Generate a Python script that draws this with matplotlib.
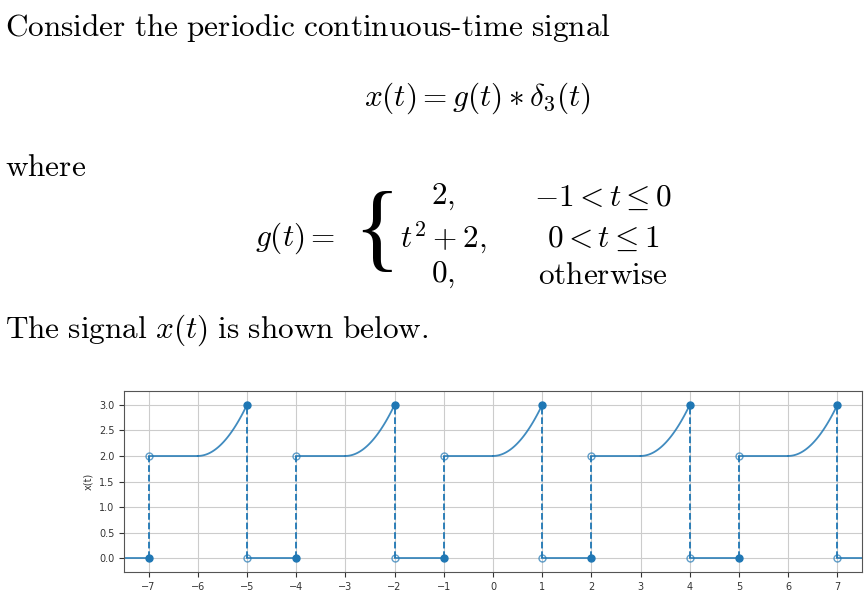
import numpy as np
import matplotlib
matplotlib.use('agg')
import matplotlib.pyplot as plt

plt.rcParams['mathtext.fontset'] = 'cm'
plt.rcParams['font.family'] = 'serif'
plt.rcParams['font.serif'] = ['DejaVu Serif']

# signal data: one period of g(t), repeated with period 3
shifts = [-6, -3, 0, 3, 6]
open_hi_t = [-7, -4, -1, 2, 5]     # open circles at y=2
open_lo_t = [-5, -2, 1, 4, 7]      # open circles at y=0
fill_hi_t = [-5, -2, 1, 4, 7]      # filled at y=3
fill_lo_t = [-7, -4, -1, 2, 5]     # filled at y=0
xticks = [-7, -6, -5, -4, -3, -2, -1, 0, 1, 2, 3, 4, 5, 6, 7]
yticks = [0.0, 0.5, 1.0, 1.5, 2.0, 2.5, 3.0]

fig = plt.figure(figsize=(8.66, 5.95), dpi=100)
W, H = 866, 595
def tx(x, y, s, **kw):
    fig.text(x / W, 1 - y / H, s, va='center', **kw)

fs = 22.5
tx(5, 28, r'$\mathrm{Consider\ the\ periodic\ continuous\text{-}time\ signal}$', fontsize=fs)
tx(478, 98, r'$x(t) = g(t) * \delta_3(t)$', fontsize=fs, ha='center')
tx(5, 168, r'$\mathrm{where}$', fontsize=fs)
tx(255, 238, r'$g(t) =$', fontsize=fs)
tx(353, 236, '{', fontsize=70, family='Liberation Serif', fontweight='light')
tx(443, 197, r'$2,$', fontsize=fs, ha='center')
tx(443, 238, r'$t^2 + 2,$', fontsize=fs, ha='center')
tx(443, 275, r'$0,$', fontsize=fs, ha='center')
tx(603, 197, r'$-1 < t \leq 0$', fontsize=fs, ha='center')
tx(603, 238, r'$0 < t \leq 1$', fontsize=fs, ha='center')
tx(603, 275, r'$\mathrm{otherwise}$', fontsize=fs, ha='center')
tx(5, 330, r'$\mathrm{The\ signal\ }x(t)\mathrm{\ is\ shown\ below.}$', fontsize=fs)

ax = fig.add_axes([124 / W, 1 - 572 / H, (862 - 124) / W, (572 - 391) / H])
c = '#1f77b4'
lw = 1.3
ax.plot([-7.5, -7], [0, 0], color=c, lw=lw, alpha=0.85)
for s in shifts:
    t1 = np.linspace(-1, 0, 20) + s
    t2 = np.linspace(0, 1, 60)
    t3 = np.linspace(1, 2, 20) + s
    ax.plot(t1, np.full_like(t1, 2), color=c, lw=lw, alpha=0.85)
    ax.plot(t2 + s, t2 ** 2 + 2, color=c, lw=lw, alpha=0.85)
    ax.plot(t3, np.zeros_like(t3), color=c, lw=lw, alpha=0.85)
for t in open_hi_t:
    ax.plot([t, t], [0, 2], '--', color=c, lw=lw)
for t in fill_hi_t:
    ax.plot([t, t], [0, 3], '--', color=c, lw=lw)
ax.plot(open_hi_t, [2] * 5, 'o', mfc='none', mec=c, ms=5, alpha=0.7)
ax.plot(open_lo_t, [0] * 5, 'o', mfc='none', mec=c, ms=5, alpha=0.7)
ax.plot(fill_hi_t, [3] * 5, 'o', color=c, ms=5)
ax.plot(fill_lo_t, [0] * 5, 'o', color=c, ms=5)

ax.set_xlim(-7.5, 7.5)
ax.set_ylim(-0.27, 3.27)
ax.set_xticks(xticks)
ax.set_yticks(yticks)
ax.tick_params(labelsize=7, colors='#333333')
for lab in ax.get_xticklabels() + ax.get_yticklabels():
    lab.set_family('DejaVu Sans')
ax.set_ylabel('x(t)', fontsize=7, family='DejaVu Sans', color='#333333')
ax.grid(True, color='#cccccc', lw=0.8)
for sp in ax.spines.values():
    sp.set_color('#555555')

fig.savefig('out.png', dpi=100)
